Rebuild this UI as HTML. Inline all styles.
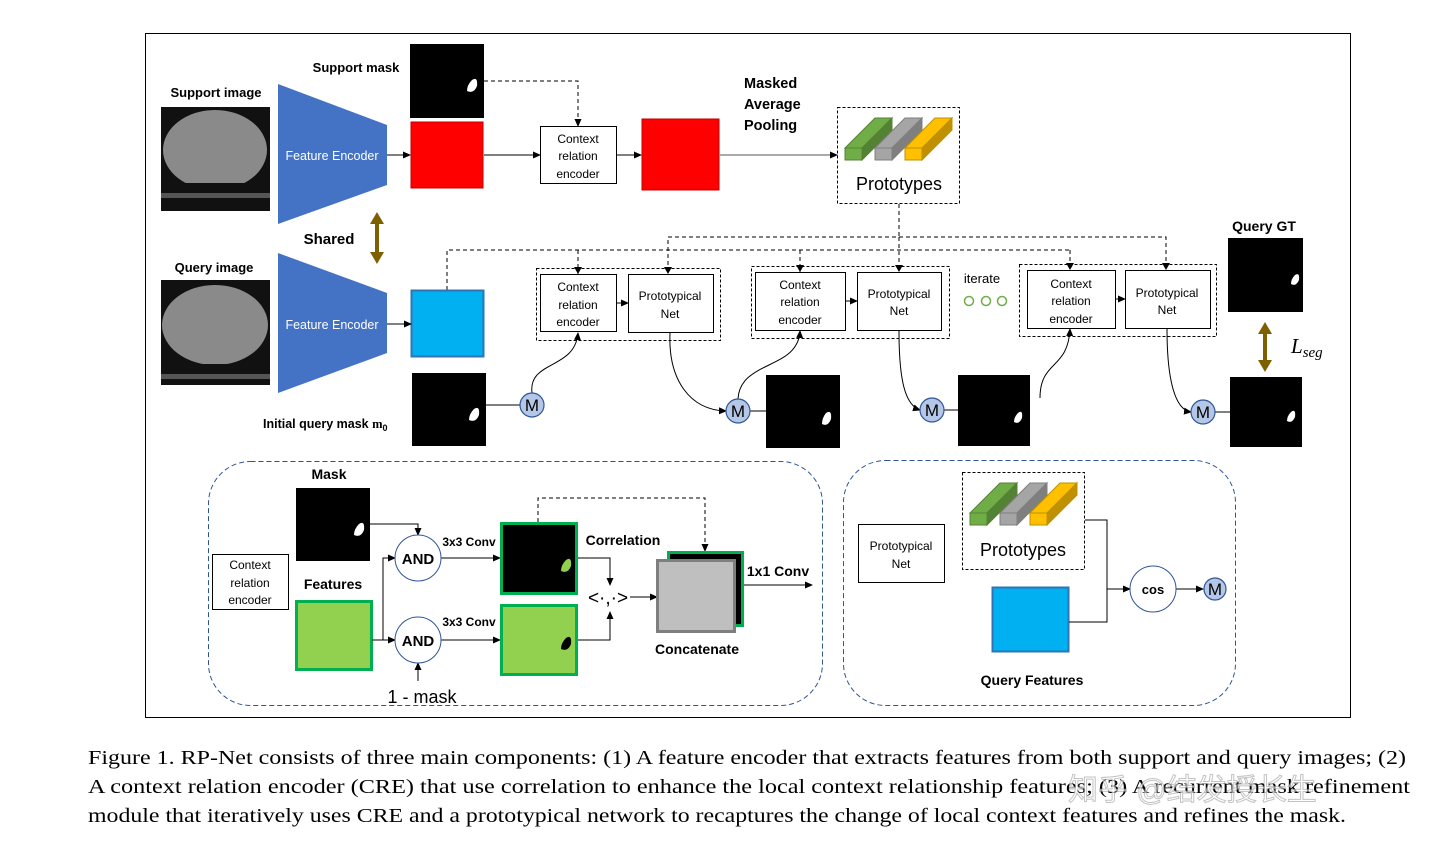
<!DOCTYPE html>
<html><head><meta charset="utf-8"><style>body{margin:0;background:#fff}svg{display:block}</style></head><body>
<svg width="1452" height="856" viewBox="0 0 1452 856" xmlns="http://www.w3.org/2000/svg" font-family="Liberation Sans, sans-serif">
<defs>
<marker id="a" markerWidth="8" markerHeight="8" refX="7" refY="4" orient="auto" markerUnits="userSpaceOnUse"><path d="M0,0.5 L8,4 L0,7.5z" fill="#000"/></marker>
<g id="bars">
 <rect x="0" y="-12" width="17" height="12" fill="#70ad47" stroke="#548235" stroke-width="1"/>
 <polygon points="0,-12 17,-12 47,-42 30,-42" fill="#70ad47" stroke="#548235"/>
 <polygon points="17,-12 47,-42 47,-30 17,0" fill="#548235" stroke="#548235"/>
 <rect x="30" y="-12" width="17" height="12" fill="#a5a5a5" stroke="#7f7f7f"/>
 <polygon points="30,-12 47,-12 77,-42 60,-42" fill="#a5a5a5" stroke="#7f7f7f"/>
 <polygon points="47,-12 77,-42 77,-30 47,0" fill="#7f7f7f" stroke="#7f7f7f"/>
 <rect x="60" y="-12" width="17" height="12" fill="#ffc000" stroke="#bf9000"/>
 <polygon points="60,-12 77,-12 107,-42 90,-42" fill="#ffc000" stroke="#bf9000"/>
 <polygon points="77,-12 107,-42 107,-30 77,0" fill="#bf9000" stroke="#bf9000"/>
</g>
</defs>
<rect x="145.5" y="33.5" width="1205" height="684" fill="none" stroke="#000" stroke-width="1"/>

<!-- CT images -->
<rect x="161" y="107" width="109" height="104" fill="#111"/>
<ellipse cx="215" cy="150" rx="52" ry="40" fill="#8a8a8a"/>
<rect x="163" y="183" width="105" height="10" fill="#111"/><rect x="161" y="193" width="109" height="5" fill="#555"/>
<rect x="161" y="280" width="109" height="105" fill="#111"/>
<ellipse cx="215" cy="325" rx="53" ry="40" fill="#8a8a8a"/>
<rect x="163" y="364" width="105" height="10" fill="#111"/><rect x="161" y="374" width="109" height="5" fill="#555"/>
<g font-weight="bold" font-size="13" text-anchor="middle">
<text x="216" y="97">Support image</text><text x="214" y="272">Query image</text>
<text x="356" y="72">Support mask</text>
<text x="329" y="244" font-size="15">Shared</text>
<text x="1264" y="231" font-size="14">Query GT</text>
</g>
<text x="263" y="428" font-size="12.5" font-weight="bold">Initial query mask <tspan font-family="Liberation Serif">m</tspan><tspan font-size="9" dy="3">0</tspan></text>

<!-- encoders -->
<polygon points="278,84 387,125 387,185 278,224" fill="#4472c4"/>
<polygon points="278,253 387,293 387,353 278,393" fill="#4472c4"/>
<text x="332" y="160" fill="#fff" font-size="12.5" text-anchor="middle">Feature Encoder</text>
<text x="332" y="329" fill="#fff" font-size="12.5" text-anchor="middle">Feature Encoder</text>
<!-- shared arrow -->
<line x1="377" y1="222" x2="377" y2="254" stroke="#7f6000" stroke-width="4"/>
<polygon points="370,224 384,224 377,212" fill="#7f6000"/><polygon points="370,252 384,252 377,264" fill="#7f6000"/>

<!-- top row -->
<rect x="410" y="44" width="74" height="74" fill="#000"/>
<path d="M472,80 q6,-4 5,6 q-3,8 -10,5 q0,-6 5,-11z" fill="#fff"/>
<rect x="411" y="122" width="72" height="66" fill="#f00" stroke="#c00000"/>
<line x1="387" y1="155" x2="410" y2="155" stroke="#000" marker-end="url(#a)"/>
<polyline points="484,81 578,81 578,126" fill="none" stroke="#000" stroke-dasharray="4,3" marker-end="url(#a)"/>
<line x1="484" y1="155" x2="540" y2="155" stroke="#000" marker-end="url(#a)"/>
<g font-size="12" text-anchor="middle">
<rect x="540.5" y="126.5" width="76" height="57" fill="#fff" stroke="#000"/>
<text x="578" y="143">Context</text><text x="578" y="160">relation</text><text x="578" y="178">encoder</text>
</g>
<line x1="616" y1="155" x2="641" y2="155" stroke="#000" marker-end="url(#a)"/>
<rect x="642" y="119" width="77" height="71" fill="#f00" stroke="#c00000"/>
<line x1="720" y1="155" x2="837" y2="155" stroke="#555" marker-end="url(#a)"/>
<g font-weight="bold" font-size="14.5"><text x="744" y="88">Masked</text><text x="744" y="109">Average</text><text x="744" y="130">Pooling</text></g>
<rect x="837.5" y="107.5" width="122" height="96" fill="none" stroke="#000" stroke-dasharray="3,2"/>
<use href="#bars" x="845" y="160"/>
<text x="899" y="190" font-size="18" text-anchor="middle">Prototypes</text>

<!-- dashed distribution -->
<g fill="none" stroke="#000" stroke-dasharray="4,3">
<polyline points="899,204 899,237"/>
<polyline points="668,272 668,237 1166,237 1166,272"/>
<line x1="899" y1="237" x2="899" y2="272"/>
<polyline points="447,290 447,250 1070,250"/>
<line x1="578" y1="250" x2="578" y2="274"/>
<line x1="800" y1="250" x2="800" y2="272"/>
<line x1="1070" y1="250" x2="1070" y2="270"/>
</g>
<g fill="#000"><path d="M664,267 L672,267 L668,274z"/><path d="M895,265 L903,265 L899,272z"/><path d="M1162,263 L1170,263 L1166,270z"/><path d="M574,267 L582,267 L578,274z"/><path d="M796,265 L804,265 L800,272z"/><path d="M1066,263 L1074,263 L1070,270z"/></g>

<rect x="411.5" y="290.5" width="72" height="66" fill="#00b0f0" stroke="#2e75b6" stroke-width="2"/>
<line x1="387" y1="324" x2="411" y2="324" stroke="#000" marker-end="url(#a)"/>

<!-- groups -->
<g font-size="12" text-anchor="middle">
<rect x="536.5" y="268.5" width="184" height="72" fill="none" stroke="#000" stroke-dasharray="3,2"/>
<rect x="540.5" y="274.5" width="76" height="57" fill="#fff" stroke="#000"/>
<text x="578" y="291">Context</text><text x="578" y="309">relation</text><text x="578" y="326">encoder</text>
<line x1="616" y1="303" x2="628" y2="303" stroke="#000" marker-end="url(#a)"/>
<rect x="628.5" y="274.5" width="85" height="58" fill="#fff" stroke="#000"/>
<text x="670" y="300">Prototypical</text><text x="670" y="318">Net</text>

<rect x="751.5" y="266.5" width="198" height="72" fill="none" stroke="#000" stroke-dasharray="3,2"/>
<rect x="755.5" y="272.5" width="90" height="58" fill="#fff" stroke="#000"/>
<text x="800" y="289">Context</text><text x="800" y="306">relation</text><text x="800" y="324">encoder</text>
<line x1="845" y1="301" x2="857" y2="301" stroke="#000" marker-end="url(#a)"/>
<rect x="857.5" y="272.5" width="84" height="58" fill="#fff" stroke="#000"/>
<text x="899" y="298">Prototypical</text><text x="899" y="315">Net</text>

<rect x="1019.5" y="264.5" width="197" height="72" fill="none" stroke="#000" stroke-dasharray="3,2"/>
<rect x="1027.5" y="270.5" width="88" height="58" fill="#fff" stroke="#000"/>
<text x="1071" y="288">Context</text><text x="1071" y="305">relation</text><text x="1071" y="323">encoder</text>
<line x1="1115" y1="299" x2="1125" y2="299" stroke="#000" marker-end="url(#a)"/>
<rect x="1125.5" y="270.5" width="85" height="58" fill="#fff" stroke="#000"/>
<text x="1167" y="297">Prototypical</text><text x="1167" y="314">Net</text>
<text x="982" y="283" font-size="13">iterate</text>
</g>
<g fill="none" stroke="#70ad47" stroke-width="1.5"><circle cx="969" cy="301" r="4.5"/><circle cx="986" cy="301" r="4.5"/><circle cx="1002" cy="301" r="4.5"/></g>

<!-- masks row -->
<rect x="412" y="373" width="74" height="73" fill="#000"/>
<path d="M474,409 q6,-4 5,6 q-3,8 -10,5 q0,-6 5,-11z" fill="#fff"/>
<rect x="766" y="375" width="74" height="73" fill="#000"/>
<path d="M826,413 q6,-4 5,6 q-3,8 -9,5 q0,-6 4,-11z" fill="#fff"/>
<rect x="958" y="375" width="72" height="71" fill="#000"/>
<path d="M1018,413 q5,-4 4,5 q-3,7 -8,4 q0,-5 4,-9z" fill="#fff"/>
<rect x="1230" y="377" width="72" height="70" fill="#000"/>
<path d="M1291,412 q5,-4 4,5 q-3,7 -8,4 q0,-5 4,-9z" fill="#fff"/>
<rect x="1228" y="238" width="75" height="74" fill="#000"/>
<path d="M1295,275 q5,-3 4,5 q-3,7 -8,4 q0,-5 4,-9z" fill="#fff"/>
<line x1="1265" y1="332" x2="1265" y2="362" stroke="#7f6000" stroke-width="4"/>
<polygon points="1258,334 1272,334 1265,322" fill="#7f6000"/><polygon points="1258,360 1272,360 1265,372" fill="#7f6000"/>
<text x="1291" y="353" font-family="Liberation Serif, serif" font-style="italic" font-size="21">L<tspan font-size="15" dy="4">seg</tspan></text>

<g fill="none" stroke="#000">
<line x1="486" y1="405" x2="520" y2="405"/>
<path d="M532,393 C528,360 575,370 578,333" marker-end="url(#a)"/>
<path d="M670,333 C668,380 690,410 726,411" marker-end="url(#a)"/>
<line x1="750" y1="411" x2="766" y2="411"/>
<path d="M738,399 C740,360 798,370 800,331" marker-end="url(#a)"/>
<path d="M899,331 C899,380 905,405 920,410" marker-end="url(#a)"/>
<line x1="944" y1="410" x2="958" y2="410"/>
<path d="M1040,398 C1040,360 1068,370 1070,329" marker-end="url(#a)"/>
<path d="M1167,329 C1167,380 1175,410 1191,412" marker-end="url(#a)"/>
<line x1="1215" y1="412" x2="1230" y2="412"/>
</g>
<g fill="#b4c7e7" stroke="#2f5597" stroke-width="1.2">
<circle cx="532" cy="405" r="12"/><circle cx="738" cy="411" r="12"/><circle cx="932" cy="410" r="12"/><circle cx="1203" cy="412" r="12"/><circle cx="1215" cy="589" r="11"/>
</g>
<g font-size="17" text-anchor="middle"><text x="532" y="411">M</text><text x="738" y="417">M</text><text x="932" y="416">M</text><text x="1203" y="418">M</text><text x="1215" y="595">M</text></g>

<!-- bottom left panel -->
<rect x="208.5" y="461.5" width="614" height="244" rx="42" fill="none" stroke="#2f5597" stroke-dasharray="5,3"/>
<g font-size="12" text-anchor="middle">
<rect x="212.5" y="554.5" width="76" height="55" fill="#fff" stroke="#000"/>
<text x="250" y="569">Context</text><text x="250" y="587">relation</text><text x="250" y="604">encoder</text>
</g>
<g font-weight="bold" font-size="14" text-anchor="middle">
<text x="329" y="479">Mask</text><text x="333" y="589">Features</text>
<text x="623" y="545">Correlation</text><text x="778" y="576">1x1 Conv</text><text x="697" y="654">Concatenate</text>
<text x="469" y="546" font-size="12">3x3 Conv</text><text x="469" y="626" font-size="12">3x3 Conv</text>
<text x="1032" y="685">Query Features</text>
</g>
<rect x="296" y="488" width="74" height="73" fill="#000"/>
<path d="M359,524 q6,-4 5,6 q-3,8 -10,5 q0,-6 5,-11z" fill="#fff"/>
<rect x="296.5" y="601.5" width="75" height="68" fill="#92d050" stroke="#00b050" stroke-width="3"/>
<g fill="none" stroke="#000">
<polyline points="370,524 418,524 418,535" marker-end="url(#a)"/>
<line x1="372" y1="640" x2="395" y2="640" marker-end="url(#a)"/>
<polyline points="383,640 383,558 395,558" marker-end="url(#a)"/>
<line x1="418" y1="681" x2="418" y2="663" marker-end="url(#a)"/>
<line x1="441" y1="558" x2="500" y2="558" marker-end="url(#a)"/>
<line x1="441" y1="640" x2="500" y2="640" marker-end="url(#a)"/>
<polyline points="577,558 610,558 610,585" marker-end="url(#a)"/>
<polyline points="577,640 610,640 610,612" marker-end="url(#a)"/>
<line x1="630" y1="597" x2="657" y2="597" marker-end="url(#a)"/>
<polyline points="538,522 538,498 705,498 705,551" stroke-dasharray="4,3" marker-end="url(#a)"/>
<line x1="742" y1="585" x2="812" y2="585" marker-end="url(#a)"/>
</g>
<g fill="#fff" stroke="#2f5597"><circle cx="418" cy="558" r="23"/><circle cx="418" cy="640" r="23"/></g>
<g font-weight="bold" font-size="15" text-anchor="middle"><text x="418" y="564">AND</text><text x="418" y="646">AND</text></g>
<text x="422" y="703" font-size="18" text-anchor="middle">1 - mask</text>
<rect x="501.5" y="523.5" width="75" height="70" fill="#000" stroke="#00b050" stroke-width="3"/>
<path d="M566,560 q6,-4 5,6 q-3,8 -10,5 q0,-6 5,-11z" fill="#92d050"/>
<rect x="501.5" y="605.5" width="75" height="69" fill="#92d050" stroke="#00b050" stroke-width="3"/>
<path d="M566,638 q6,-4 5,6 q-3,8 -10,5 q0,-6 5,-11z" fill="#000"/>
<text x="608" y="604" font-size="19" text-anchor="middle">&lt;·,·&gt;</text>
<rect x="668.5" y="552.5" width="74" height="73" fill="#000" stroke="#00b050" stroke-width="3"/>
<rect x="657.5" y="560.5" width="77" height="71" fill="#bfbfbf" stroke="#7f7f7f" stroke-width="3"/>

<!-- bottom right panel -->
<rect x="843.5" y="460.5" width="392" height="245" rx="42" fill="none" stroke="#2f5597" stroke-dasharray="5,3"/>
<rect x="858.5" y="524.5" width="86" height="58" fill="#fff" stroke="#000"/>
<g font-size="12" text-anchor="middle"><text x="901" y="550">Prototypical</text><text x="901" y="568">Net</text></g>
<rect x="962.5" y="472.5" width="122" height="97" fill="none" stroke="#000" stroke-dasharray="3,2"/>
<use href="#bars" x="970" y="525"/>
<text x="1023" y="556" font-size="18" text-anchor="middle">Prototypes</text>
<rect x="992.5" y="587.5" width="76" height="64" fill="#00b0f0" stroke="#2e75b6" stroke-width="2"/>
<g fill="none" stroke="#000">
<polyline points="1085,520 1107,520 1107,622 1069,622"/>
<line x1="1107" y1="589" x2="1130" y2="589" marker-end="url(#a)"/>
<line x1="1176" y1="589" x2="1203" y2="589" marker-end="url(#a)"/>
</g>
<circle cx="1153" cy="589" r="23" fill="#fff" stroke="#2f5597"/>
<text x="1153" y="594" font-weight="bold" font-size="13" text-anchor="middle">cos</text>

<!-- caption -->
<g font-family="Liberation Serif, serif" font-size="20" fill="#000">
<text x="88" y="764" textLength="1318" lengthAdjust="spacingAndGlyphs">Figure 1. RP-Net consists of three main components: (1) A feature encoder that extracts features from both support and query images; (2)</text>
<text x="88" y="793" textLength="1322" lengthAdjust="spacingAndGlyphs">A context relation encoder (CRE) that use correlation to enhance the local context relationship features; (3) A recurrent mask refinement</text>
<text x="88" y="822" textLength="1258" lengthAdjust="spacingAndGlyphs">module that iteratively uses CRE and a prototypical network to recaptures the change of local context features and refines the mask.</text>
</g>
<text x="1068" y="800" font-family="Liberation Sans, Noto Sans CJK SC, sans-serif" font-size="30" fill="#fff" fill-opacity="0.6" stroke="#888" stroke-opacity="0.5" stroke-width="1">知乎 @结发授长生</text>
</svg>
</body></html>
